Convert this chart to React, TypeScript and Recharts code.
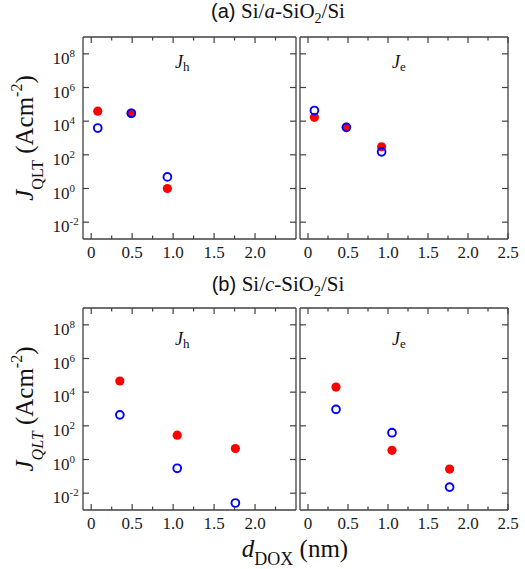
import React from 'react';
import { ScatterChart, Scatter, XAxis, YAxis } from 'recharts';

// ---------- data ----------
const xMajorTicks = [0, 0.5, 1.0, 1.5, 2.0, 2.5];
const xTickLabels = ['0', '0.5', '1.0', '1.5', '2.0', '2.5'];
const xMinorTicks = [0.25, 0.75, 1.25, 1.75, 2.25];
const yTickExponents = [-2, 0, 2, 4, 6, 8];

// (a) Si/a-SiO2/Si, hole current J_h
const aHoleX = [0.08, 0.49, 0.93];
const aHoleFilled = [3.9e4, 2.95e4, 1.0];
const aHoleOpen = [3.9e3, 2.95e4, 4.9];
// (a) Si/a-SiO2/Si, electron current J_e
const aElecX = [0.08, 0.48, 0.92];
const aElecFilled = [1.7e4, 4.3e3, 3.0e2];
const aElecOpen = [4.3e4, 4.3e3, 1.5e2];
// (b) Si/c-SiO2/Si, hole current J_h
const bHoleX = [0.35, 1.05, 1.76];
const bHoleFilled = [4.6e4, 28, 4.5];
const bHoleOpen = [450, 0.3, 2.6e-3];
// (b) Si/c-SiO2/Si, electron current J_e
const bElecX = [0.35, 1.05, 1.77];
const bElecFilled = [2.0e4, 3.5, 0.27];
const bElecOpen = [950, 39, 0.023];

const X_DOMAIN: [number, number] = [-0.1, 2.5];
const Y_DOMAIN: [number, number] = [1e-3, 1e9];

// ---------- styles ----------
const AX = '#404040';
const SERIF = 'Liberation Serif, Times New Roman, serif';
const SANS = 'Liberation Sans, Arial, sans-serif';
const RED = '#ff0000';
const BLUE = '#0000ff';

const toPoints = (xs: number[], ys: number[]) => xs.map((x, i) => ({ x, y: ys[i] }));

const labelFor = (v: number) => {
  const i = xMajorTicks.findIndex((t) => Math.abs(t - v) < 1e-6);
  return i >= 0 ? xTickLabels[i] : null;
};

const serifStyle = { fontFamily: SERIF } as React.CSSProperties;

const BottomTick = (props: any) => {
  const { x, y, payload, showLast } = props;
  const lab = labelFor(payload.value);
  const major = lab !== null;
  const showLabel = major && (showLast || payload.value < 2.4);
  return (
    <g>
      <line x1={x} x2={x} y1={y} y2={y - (major ? 6 : 3.5)} stroke={AX} strokeWidth={1.2} />
      {showLabel && (
        <text x={x} y={y + 19} textAnchor="middle" style={serifStyle} fontSize={17} fill="#1a1a1a">
          {lab}
        </text>
      )}
    </g>
  );
};

const TopTick = (props: any) => {
  const { x, y, payload } = props;
  const major = labelFor(payload.value) !== null;
  return <line x1={x} x2={x} y1={y} y2={y + (major ? 6 : 3.5)} stroke={AX} strokeWidth={1.2} />;
};

const LeftTick = (props: any) => {
  const { x, y, payload, showLabel } = props;
  const exp = Math.round(Math.log10(payload.value));
  return (
    <g>
      <line x1={x} x2={x + 6} y1={y} y2={y} stroke={AX} strokeWidth={1.2} />
      {showLabel && (
        <text x={x - 30.5} y={y + 10} textAnchor="start" style={serifStyle} fontSize={17} fill="#1a1a1a">
          10
          <tspan dy={-7} fontSize={11}>
            {String(exp)}
          </tspan>
        </text>
      )}
    </g>
  );
};

const RightTick = (props: any) => {
  const { x, y } = props;
  return <line x1={x} x2={x - 6} y1={y} y2={y} stroke={AX} strokeWidth={1.2} />;
};

const FilledDot = (p: any) => <circle cx={p.cx} cy={p.cy} r={4.6} fill={RED} />;
const OpenDot = (p: any) => (
  <circle cx={p.cx} cy={p.cy} r={3.9} fill="none" stroke={BLUE} strokeWidth={1.9} />
);

type PanelProps = {
  left: number;
  top: number;
  isLeft: boolean;
  xs: number[];
  filled: number[];
  open: number[];
};

const Panel = ({ left, top, isLeft, xs, filled, open }: PanelProps) => {
  const yAxisW = isLeft ? 60 : 1;
  const plotW = isLeft ? 213 : 208;
  const plotH = 202;
  const mLeft = isLeft ? 0 : 1;
  const mRight = isLeft ? 1 : 13;
  const xAxisH = 26;
  const topH = 1;
  const rightW = 1;
  const width = mLeft + yAxisW + plotW + rightW + mRight;
  const height = topH + plotH + xAxisH;
  const xTicks = isLeft
    ? [...xMajorTicks.filter((t) => t < 2.4), ...xMinorTicks]
    : [...xMajorTicks, ...xMinorTicks];
  const yTicks = yTickExponents.map((e) => Math.pow(10, e));
  return (
    <div style={{ position: 'absolute', left: left - mLeft - yAxisW, top: top - topH }}>
      <ScatterChart width={width} height={height} margin={{ top: 0, right: mRight, bottom: 0, left: mLeft }}>
        <XAxis
          xAxisId={0}
          dataKey="x"
          type="number"
          domain={X_DOMAIN}
          allowDataOverflow
          ticks={xTicks}
          interval={0}
          height={xAxisH}
          tickSize={0}
          tickMargin={0}
          tickLine={false}
          axisLine={{ stroke: AX, strokeWidth: 1.3 }}
          tick={(p: any) => <BottomTick {...p} showLast={!isLeft} />}
        />
        <XAxis
          xAxisId="top"
          orientation="top"
          dataKey="x"
          type="number"
          domain={X_DOMAIN}
          allowDataOverflow
          ticks={xTicks}
          interval={0}
          height={topH}
          tickSize={0}
          tickMargin={0}
          tickLine={false}
          axisLine={{ stroke: AX, strokeWidth: 1.3 }}
          tick={(p: any) => <TopTick {...p} />}
        />
        <YAxis
          yAxisId={0}
          dataKey="y"
          type="number"
          scale="log"
          domain={Y_DOMAIN}
          allowDataOverflow
          ticks={yTicks}
          interval={0}
          width={yAxisW}
          tickSize={0}
          tickMargin={0}
          tickLine={false}
          axisLine={{ stroke: AX, strokeWidth: 1.3 }}
          tick={(p: any) => <LeftTick {...p} showLabel={isLeft} />}
        />
        <YAxis
          yAxisId="right"
          orientation="right"
          dataKey="y"
          type="number"
          scale="log"
          domain={Y_DOMAIN}
          allowDataOverflow
          ticks={yTicks}
          interval={0}
          width={rightW}
          tickSize={0}
          tickMargin={0}
          tickLine={false}
          axisLine={{ stroke: AX, strokeWidth: 1.3 }}
          tick={(p: any) => <RightTick {...p} />}
        />
        <Scatter
          data={toPoints(xs, filled)}
          xAxisId={0}
          yAxisId={0}
          shape={FilledDot}
          isAnimationActive={false}
        />
        <Scatter
          data={toPoints(xs, open)}
          xAxisId={0}
          yAxisId={0}
          shape={OpenDot}
          isAnimationActive={false}
        />
      </ScatterChart>
    </div>
  );
};

const PanelLabel = ({ x, y, sub }: { x: number; y: number; sub: string }) => (
  <text x={x} y={y} style={serifStyle} fill="#111">
    <tspan fontSize={18} fontStyle="italic">J</tspan>
    <tspan fontSize={13} dy={3}>{sub}</tspan>
  </text>
);

const YLabel = ({ cy, italicSub }: { cy: number; italicSub: boolean }) => (
  <text
    transform={`translate(33, ${cy}) rotate(-90)`}
    textAnchor="middle"
    style={serifStyle}
    fill="#111"
    fontSize={25}
  >
    <tspan fontStyle="italic">J</tspan>
    <tspan fontSize={16} dy={10} fontStyle={italicSub ? 'italic' : 'normal'}>
      QLT
    </tspan>
    <tspan dy={-10}>{' (Acm'}</tspan>
    <tspan fontSize={16} dy={-11}>-2</tspan>
    <tspan dy={11}>)</tspan>
  </text>
);

const Title = ({ y, tag, letter }: { y: number; tag: string; letter: string }) => (
  <text x={278} y={y} textAnchor="middle" style={serifStyle} fontSize={21} fill="#111">
    <tspan style={{ fontFamily: SANS }} fontSize={20}>{tag + ' '}</tspan>
    <tspan>Si/</tspan>
    <tspan fontStyle="italic">{letter}</tspan>
    <tspan>-SiO</tspan>
    <tspan fontSize={14} dy={5}>2</tspan>
    <tspan dy={-5}>/Si</tspan>
  </text>
);

export default function App() {
  return (
    <div style={{ position: 'absolute', left: 0, top: 0, width: 525, height: 569, background: '#fff' }}>
      <Panel left={83} top={37} isLeft xs={aHoleX} filled={aHoleFilled} open={aHoleOpen} />
      <Panel left={300} top={37} isLeft={false} xs={aElecX} filled={aElecFilled} open={aElecOpen} />
      <Panel left={83} top={308} isLeft xs={bHoleX} filled={bHoleFilled} open={bHoleOpen} />
      <Panel left={300} top={308} isLeft={false} xs={bElecX} filled={bElecFilled} open={bElecOpen} />
      <svg
        width={525}
        height={569}
        style={{ position: 'absolute', left: 0, top: 0, pointerEvents: 'none' }}
      >
        <Title y={18} tag="(a)" letter="a" />
        <Title y={291} tag="(b)" letter="c" />
        <YLabel cy={138} italicSub={false} />
        <YLabel cy={409} italicSub={true} />
        <PanelLabel x={175} y={68} sub="h" />
        <PanelLabel x={392} y={68} sub="e" />
        <PanelLabel x={175} y={345} sub="h" />
        <PanelLabel x={392} y={345} sub="e" />
        <text x={295} y={557} textAnchor="middle" style={serifStyle} fontSize={25} fill="#111">
          <tspan fontStyle="italic">d</tspan>
          <tspan fontSize={18} dy={8}>DOX</tspan>
          <tspan dy={-8}>{' (nm)'}</tspan>
        </text>
      </svg>
    </div>
  );
}
